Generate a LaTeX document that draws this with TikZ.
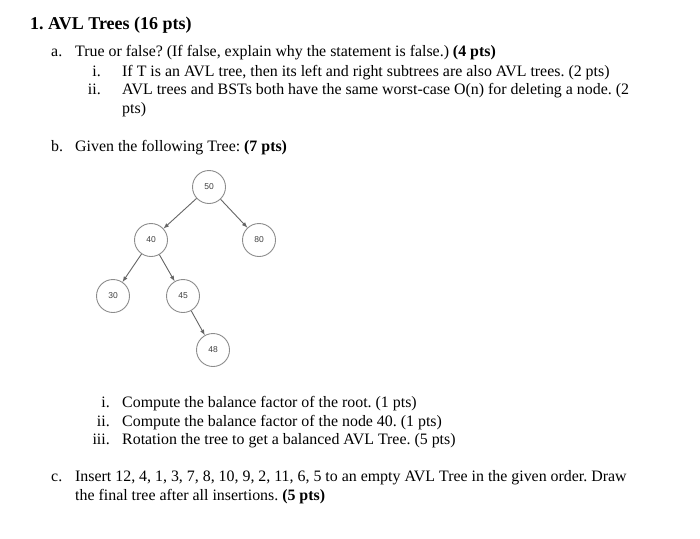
\documentclass[tikz,border=0pt]{standalone}
\usepackage{fontspec}
\setmainfont{Liberation Serif}
\newfontfamily\treefont{Liberation Sans}
\frenchspacing
\begin{document}
\begin{tikzpicture}[x=1pt,y=-1pt,
  txt/.style={anchor=base west,inner sep=0pt,font=\fontsize{15.9}{18}\selectfont},
  num/.style={anchor=base east,inner sep=0pt,font=\fontsize{15.9}{18}\selectfont},
  tn/.style={circle,draw=black!45,line width=0.9pt,minimum size=33pt,inner sep=0pt,font=\treefont\fontsize{8.5}{9}\selectfont,text=black!75},
  edge/.style={draw=black!60,line width=0.9pt,-latex}]
\useasboundingbox[fill=white] (0,0) rectangle (700,538);
\node[txt,font=\bfseries\fontsize{18}{20}\selectfont] (t) at (30,29) {1. AVL Trees (16 pts)};
\node[txt] (a) at (51,56) {a.};
\node[txt] (at) at (75,56) {True or false? (If false, explain why the statement is false.) \textbf{(4 pts)}};
\node[num] (ai) at (101,76) {i.};
\node[txt] (ait) at (122,76) {If T is an AVL tree, then its left and right subtrees are also AVL trees. (2 pts)};
\node[num] (aii) at (101,94) {ii.};
\node[txt] (aiit) at (122,94) {AVL trees and BSTs both have the same worst-case O(n) for deleting a node. (2};
\node[txt] (aiit2) at (122,113) {pts)};
\node[txt] (b) at (51,151) {b.};
\node[txt] (bt) at (75,151) {Given the following Tree: \textbf{(7 pts)}};
\node[tn] (n50) at (209,187) {50};
\node[tn] (n40) at (151,240) {40};
\node[tn] (n80) at (259,240) {80};
\node[tn] (n30) at (113,296) {30};
\node[tn] (n45) at (183,296) {45};
\node[tn] (n48) at (213,350) {48};
\draw[edge] (n50) -- (n40);
\draw[edge] (n50) -- (n80);
\draw[edge] (n40) -- (n30);
\draw[edge] (n40) -- (n45);
\draw[edge] (n45) -- (n48);
\node[num] (bi) at (110,407) {i.};
\node[txt] (bit) at (122,407) {Compute the balance factor of the root. (1 pts)};
\node[num] (bii) at (110,426) {ii.};
\node[txt] (biit) at (122,426) {Compute the balance factor of the node 40. (1 pts)};
\node[num] (biii) at (110,444) {iii.};
\node[txt] (biiit) at (122,444) {Rotation the tree to get a balanced AVL Tree. (5 pts)};
\node[txt] (c) at (51,481) {c.};
\node[txt] (ct) at (75,481) {Insert 12, 4, 1, 3, 7, 8, 10, 9, 2, 11, 6, 5 to an empty AVL Tree in the given order. Draw};
\node[txt] (ct2) at (75,500) {the final tree after all insertions. \textbf{(5 pts)}};
\end{tikzpicture}
\end{document}
